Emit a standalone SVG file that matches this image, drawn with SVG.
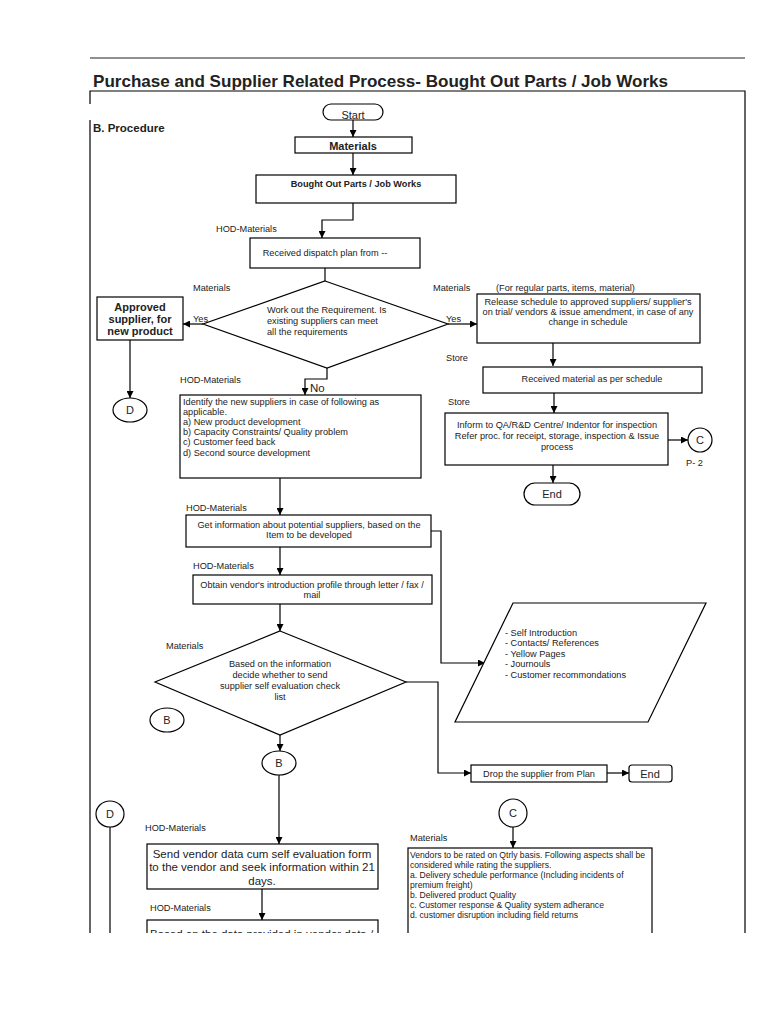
<svg xmlns="http://www.w3.org/2000/svg" width="768" height="1024" viewBox="0 0 768 1024">
<defs>
<marker id="ah" viewBox="0 0 10 10" refX="10" refY="5" markerWidth="7" markerHeight="7" markerUnits="userSpaceOnUse" orient="auto">
<path d="M0,0 L10,5 L0,10 z" fill="#000"/>
</marker>
<clipPath id="page"><rect x="0" y="0" width="768" height="933"/></clipPath>
<style>
.b{fill:#fff;stroke:#000;stroke-width:1.2}
.c{fill:none;stroke:#000;stroke-width:1.2;marker-end:url(#ah)}
.l{fill:none;stroke:#000;stroke-width:1.2}
text{font-family:"Liberation Sans",Arial,sans-serif;fill:#222}
.s{font-size:9.2px}
.m{font-size:9.2px;text-anchor:middle}
.lab{font-size:9.2px}
.v{font-size:8.6px}
</style>
</defs>
<rect width="768" height="1024" fill="#fff"/>
<g clip-path="url(#page)">
<g id="frame">
<line x1="90" y1="58" x2="745" y2="58" stroke="#222" stroke-width="1.2"/>
<text x="93" y="87" font-size="17" font-weight="bold" fill="#000" textLength="575" lengthAdjust="spacingAndGlyphs">Purchase and Supplier Related Process- Bought Out Parts / Job Works</text>
<polyline points="90,104 90,91 745,91 745,940" class="l"/>
<line x1="90" y1="120" x2="90" y2="940" stroke="#000" stroke-width="1.2"/>
<text x="93" y="132" font-size="11.5" font-weight="bold" fill="#000">B. Procedure</text>
</g>
<g id="labels">
<text x="216" y="232" class="lab">HOD-Materials</text>
<text x="193" y="291" class="lab">Materials</text>
<text x="193" y="322" class="lab">Yes</text>
<text x="433" y="291" class="lab">Materials</text>
<text x="496" y="291" class="lab">(For regular parts, items, material)</text>
<text x="446" y="322" class="lab">Yes</text>
<text x="446" y="361" class="lab">Store</text>
<text x="448" y="405" class="lab">Store</text>
<text x="686" y="466" class="lab">P- 2</text>
<text x="180" y="383" class="lab">HOD-Materials</text>
<text x="310" y="392" font-size="11.5">No</text>
<text x="186" y="511" class="lab">HOD-Materials</text>
<text x="193" y="569" class="lab">HOD-Materials</text>
<text x="166" y="649" class="lab">Materials</text>
<text x="145" y="831" class="lab">HOD-Materials</text>
<text x="150" y="911" class="lab">HOD-Materials</text>
<text x="410" y="841" class="lab">Materials</text>
</g>
<g id="connectors">
<line x1="353" y1="120" x2="353" y2="137" class="c"/>
<line x1="353" y1="153" x2="353" y2="175" class="c"/>
<polyline points="353,203 353,220 322,220 322,238" class="c"/>
<line x1="325" y1="268" x2="325" y2="281" class="l"/>
<line x1="203" y1="324" x2="183" y2="324" class="c"/>
<line x1="448" y1="324" x2="477" y2="324" class="c"/>
<line x1="130" y1="340" x2="130" y2="398" class="c"/>
<line x1="553" y1="343" x2="553" y2="366" class="c"/>
<line x1="554" y1="393" x2="554" y2="413" class="c"/>
<line x1="668" y1="440" x2="688" y2="440" class="c"/>
<line x1="553" y1="465" x2="553" y2="483" class="c"/>
<polyline points="327,368 327,379 305,379 305,395" class="c"/>
<line x1="280" y1="478" x2="280" y2="515" class="c"/>
<polyline points="431,531 441,531 441,663 485,663" class="c"/>
<line x1="280" y1="547" x2="280" y2="575" class="c"/>
<line x1="280" y1="604" x2="280" y2="631" class="c"/>
<polyline points="406,682 438,682 438,773 471,773" class="c"/>
<line x1="607" y1="773" x2="629" y2="773" class="c"/>
<line x1="280" y1="735" x2="280" y2="751" class="c"/>
<line x1="279" y1="775" x2="279" y2="844" class="c"/>
<line x1="110" y1="827" x2="110" y2="940" class="l"/>
<line x1="262" y1="889" x2="262" y2="920" class="c"/>
<line x1="513" y1="827" x2="513" y2="848" class="c"/>
</g>
<g id="start">
<rect x="323" y="104" width="60" height="16" rx="8" class="b"/>
<text x="353" y="119" font-size="11" text-anchor="middle">Start</text>
</g>
<g id="materials">
<rect x="295" y="137" width="117" height="16" class="b"/>
<text x="353" y="150" font-size="11" font-weight="bold" text-anchor="middle" fill="#000">Materials</text>
</g>
<g id="bought-out">
<rect x="256" y="175" width="200" height="28" class="b"/>
<text x="356" y="187" font-size="9.2" font-weight="bold" text-anchor="middle" fill="#000">Bought Out Parts / Job Works</text>
</g>
<g id="received-dispatch">
<rect x="250" y="238" width="170" height="30" class="b"/>
<text x="325" y="256" class="m">Received dispatch plan from --</text>
</g>
<g id="work-out">
<polygon points="325,281 448,324 327,368 203,324" class="b"/>
<text x="267" y="313" class="s">Work out the Requirement. Is</text>
<text x="267" y="324" class="s">existing suppliers can meet</text>
<text x="267" y="335" class="s">all the requirements</text>
</g>
<g id="approved">
<rect x="97" y="297" width="86" height="43" class="b"/>
<text x="140" y="311" font-size="11" font-weight="bold" text-anchor="middle" fill="#000">Approved</text>
<text x="140" y="323" font-size="11" font-weight="bold" text-anchor="middle" fill="#000">supplier, for</text>
<text x="140" y="335" font-size="11" font-weight="bold" text-anchor="middle" fill="#000">new product</text>
</g>
<g id="d-top">
<ellipse cx="130" cy="410" rx="17" ry="12" class="b"/>
<text x="130" y="414" font-size="11" text-anchor="middle">D</text>
</g>
<g id="release">
<rect x="477" y="294" width="223" height="49" class="b"/>
<text x="588" y="305" class="m">Release schedule to approved suppliers/ supplier's</text>
<text x="588" y="315" class="m">on trial/ vendors &amp; issue amendment, in case of  any</text>
<text x="588" y="325" class="m">change in schedule</text>
</g>
<g id="received-material">
<rect x="483" y="367" width="219" height="26" class="b"/>
<text x="592" y="382" class="m">Received material as per schedule</text>
</g>
<g id="inform">
<rect x="445" y="413" width="223" height="52" class="b"/>
<text x="557" y="428" class="m">Inform to QA/R&amp;D Centre/ Indentor for inspection</text>
<text x="557" y="439" class="m">Refer proc. for receipt, storage, inspection &amp; Issue</text>
<text x="557" y="450" class="m">process</text>
</g>
<g id="c-right">
<circle cx="700" cy="440" r="12" class="b"/>
<text x="700" y="444" font-size="11" text-anchor="middle">C</text>
</g>
<g id="end1">
<rect x="524" y="483" width="56" height="22" rx="11" class="b"/>
<text x="552" y="498" font-size="11" text-anchor="middle">End</text>
</g>
<g id="identify">
<rect x="180" y="395" width="241" height="83" class="b"/>
<text x="183" y="405" class="s">Identify the new suppliers in case of following as</text>
<text x="183" y="415" class="s">applicable.</text>
<text x="183" y="425" class="s">a) New product development</text>
<text x="183" y="435" class="s">b) Capacity Constraints/ Quality problem</text>
<text x="183" y="445" class="s">c) Customer feed back</text>
<text x="183" y="456" class="s">d) Second source development</text>
</g>
<g id="get-info">
<rect x="186" y="515" width="245" height="32" class="b"/>
<text x="309" y="528" class="m">Get information about potential suppliers, based on the</text>
<text x="309" y="538" class="m">Item to be developed</text>
</g>
<g id="obtain">
<rect x="193" y="575" width="239" height="29" class="b"/>
<text x="312" y="588" class="m">Obtain vendor's introduction profile through letter / fax /</text>
<text x="312" y="598" class="m">mail</text>
</g>
<g id="sources">
<polygon points="513,603 706,603 648,722 455,722" class="b"/>
<text x="505" y="636" class="s">- Self Introduction</text>
<text x="505" y="646" class="s">- Contacts/ References</text>
<text x="505" y="657" class="s">- Yellow Pages</text>
<text x="505" y="667" class="s">- Journouls</text>
<text x="505" y="678" class="s">- Customer recommondations</text>
</g>
<g id="decide">
<polygon points="280,631 406,682 280,735 155,682" class="b"/>
<text x="280" y="667" class="m">Based on the information</text>
<text x="280" y="678" class="m">decide whether to send</text>
<text x="280" y="689" class="m">supplier self evaluation check</text>
<text x="280" y="700" class="m">list</text>
</g>
<g id="b-left">
<ellipse cx="167" cy="720" rx="17" ry="12" class="b"/>
<text x="167" y="724" font-size="11" text-anchor="middle">B</text>
</g>
<g id="b-mid">
<ellipse cx="279" cy="763" rx="17" ry="12" class="b"/>
<text x="279" y="767" font-size="11" text-anchor="middle">B</text>
</g>
<g id="drop">
<rect x="471" y="765" width="136" height="17" class="b"/>
<text x="539" y="777" class="m">Drop the supplier from Plan</text>
</g>
<g id="end2">
<rect x="629" y="765" width="43" height="17" rx="3" class="b"/>
<text x="650" y="778" font-size="11" text-anchor="middle">End</text>
</g>
<g id="d-bottom">
<ellipse cx="110" cy="814" rx="14" ry="13" class="b"/>
<text x="110" y="818" font-size="11" text-anchor="middle">D</text>
</g>
<g id="send">
<rect x="147" y="844" width="231" height="45" class="b"/>
<text x="262" y="858" font-size="11.5" text-anchor="middle">Send vendor data cum self evaluation form</text>
<text x="262" y="871" font-size="11.5" text-anchor="middle">to the vendor and seek information within 21</text>
<text x="262" y="885" font-size="11.5" text-anchor="middle">days.</text>
</g>
<g id="based-on-data">
<rect x="147" y="920" width="231" height="60" class="b"/>
<text x="150" y="938" font-size="11.5">Based on the data provided in vendor data /</text>
</g>
<g id="c-bottom">
<circle cx="513" cy="813" r="14" class="b"/>
<text x="513" y="817" font-size="11" text-anchor="middle">C</text>
</g>
<g id="rating">
<rect x="408" y="848" width="244" height="120" class="b"/>
<text x="410" y="858" class="v">Vendors to be rated on Qtrly basis. Following aspects shall be</text>
<text x="410" y="868" class="v">considered while rating the suppliers.</text>
<text x="410" y="878" class="v">a. Delivery schedule performance (Including incidents of</text>
<text x="410" y="888" class="v">premium freight)</text>
<text x="410" y="898" class="v">b. Delivered product Quality</text>
<text x="410" y="908" class="v">c. Customer response &amp; Quality system adherance</text>
<text x="410" y="918" class="v">d. customer disruption including field returns</text>
</g>
</g>
</svg>
